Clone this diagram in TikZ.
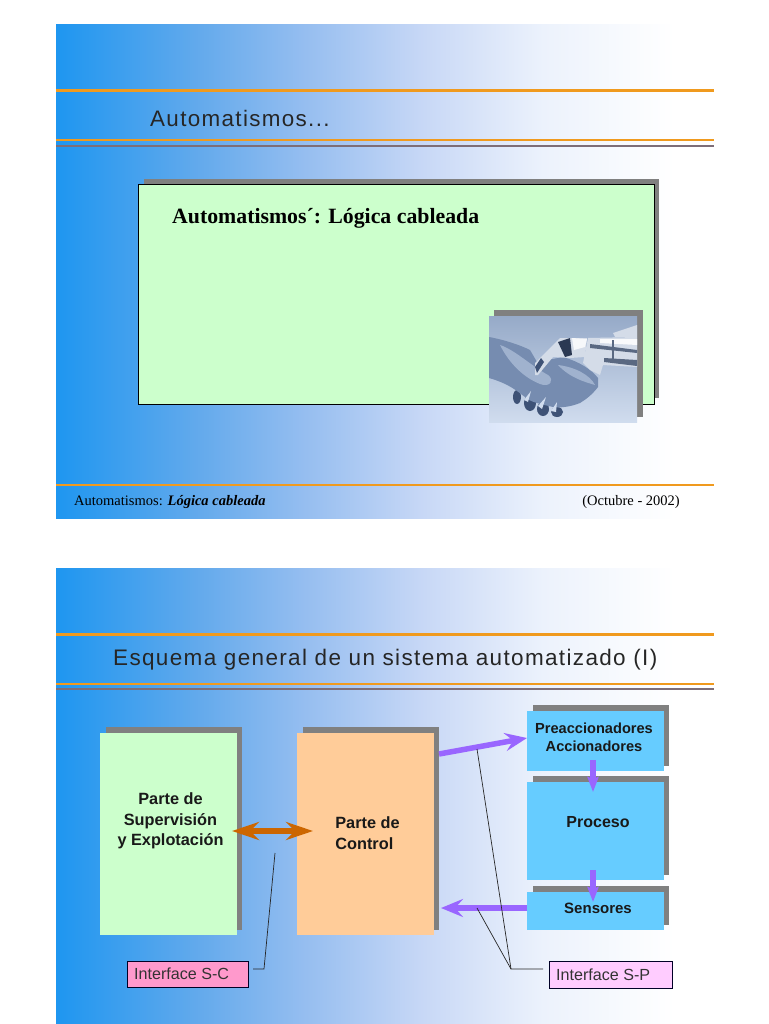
\documentclass[tikz,border=0pt]{standalone}
\usepackage{fontspec}
\setmainfont{Liberation Serif}
\setsansfont{Liberation Sans}
\newfontfamily\titlefont[LetterSpace=6]{Liberation Sans}
\usetikzlibrary{arrows.meta,calc}
\definecolor{cA}{RGB}{30,150,240}
\definecolor{cB}{RGB}{100,170,236}
\definecolor{cC}{RGB}{150,190,240}
\definecolor{cD}{RGB}{200,216,246}
\definecolor{cE}{RGB}{236,242,252}
\definecolor{rule}{RGB}{240,154,30}
\definecolor{ruleg}{RGB}{125,110,120}
\definecolor{shadowgray}{RGB}{128,128,128}
\definecolor{paleGreen}{RGB}{204,255,204}
\definecolor{peach}{RGB}{255,204,153}
\definecolor{skyb}{RGB}{102,204,255}
\definecolor{purp}{RGB}{153,102,255}
\definecolor{burnt}{RGB}{204,102,0}
\definecolor{rosa}{RGB}{255,153,204}
\definecolor{lilac}{RGB}{255,204,255}
\definecolor{phTop}{RGB}{150,170,200}
\definecolor{phBot}{RGB}{208,220,238}
\definecolor{phHand}{RGB}{118,140,176}
\definecolor{phLight}{RGB}{160,178,206}
\definecolor{phDark}{RGB}{62,82,118}
\definecolor{phRobot}{RGB}{212,220,232}
\definecolor{phSteel}{RGB}{90,105,130}
\pgfdeclarehorizontalshading{slidebg}{100bp}{color(0bp)=(cA); color(25bp)=(cA); color(36bp)=(cB); color(44bp)=(cC); color(53bp)=(cD); color(62bp)=(cE); color(72bp)=(white); color(100bp)=(white)}
\tikzset{
  x=1pt,y=-1pt,
  rect/.style={inner sep=0pt,outer sep=0pt,anchor=north west},
  rulemain/.style={draw=rule,line width=3pt},
  rulethin/.style={draw=rule,line width=2pt},
  rulegray/.style={draw=ruleg,line width=1.2pt},
  boxlabel/.style={font=\sffamily\bfseries\fontsize{16.3}{20.5}\selectfont,inner sep=0pt,text=black!90},
  ifacebox/.style={draw=black!85!blue,line width=0.9pt,inner sep=0pt,text=black!80},
  ifacetext/.style={font=\sffamily\fontsize{16.1}{18}\selectfont,text=black!80,inner sep=0pt,anchor=west},
  purplearrow/.style={draw=purp,line width=5.5pt,-{Stealth[length=22pt,width=18pt,inset=8pt]}},
  pdown/.style={draw=purp,line width=5.5pt,-{Stealth[length=15pt,width=11pt,inset=2pt]}},
  burntarrow/.style={draw=burnt,line width=5.5pt,{Stealth[length=27pt,width=18pt,inset=9pt]}-{Stealth[length=27pt,width=18pt,inset=9pt]}},
  leader/.style={draw=black!85,line width=0.7pt},
}
\newcommand{\shadowedbox}[6]{% name, x1,y1,x2,y2, fill
  \fill[shadowgray] (#2+6,#3-6) rectangle (#4+5,#5-5);
  \path[fill=#6] (#2,#3) rectangle (#4,#5);
  \coordinate (#1) at ({(#2+#4)/2},{(#3+#5)/2});
}
\begin{document}
\begin{tikzpicture}
\useasboundingbox (0,0) rectangle (768,1024);
\fill[white] (0,0) rectangle (768,1024);
% ---------- slide 1
\shade[shading=slidebg] (56,25) rectangle (714,518);
\draw[rulemain] (56,91) -- (714,91);
\draw[rulethin] (56,140.5) -- (714,140.5);
\draw[rulegray] (56,146) -- (714,146);
\node[anchor=base west,inner sep=0pt,text=black!85] (title1) at (150,127) {\titlefont\fontsize{22.4}{26}\selectfont Automatismos...};
\fill[shadowgray] (144,179) rectangle (659,398);
\path[fill=paleGreen,draw=black,line width=0.9pt] (138,184) rectangle (654,404);
\node[anchor=base west,inner sep=0pt] (head1) at (172,223) {\bfseries\fontsize{21.8}{25}\selectfont Automatismos´: Lógica cableada};
% picture
\fill[shadowgray] (494,309.5) rectangle (643,417);
\begin{scope}
\clip (489,316) rectangle (637,422);
\shade[top color=phTop,bottom color=phBot] (489,316) rectangle (637,422);
% human hand
\fill[phDark] (517,397) circle[x radius=4,y radius=7];
\fill[phDark] (530,403) circle[x radius=6,y radius=8];
\fill[phDark] (543,409) circle[x radius=6,y radius=7];
\fill[phDark] (557,412) circle[x radius=6,y radius=5];
\fill[phHand] (489,337) .. controls (505,340) and (520,345) .. (530,350) -- (537,362) -- (563,357) .. controls (580,362) and (592,370) .. (598,378)
 -- (598,387) .. controls (592,395) and (585,400) .. (580,403) .. controls (570,407) and (560,408) .. (553,407) .. controls (540,404) and (530,402) .. (525,397) .. controls (518,392) and (510,384) .. (489,378) -- cycle;
\fill[phLight] (500,345) .. controls (515,350) and (530,365) .. (548,375) .. controls (555,380) and (550,388) .. (540,384) .. controls (525,378) and (510,365) .. (500,345) -- cycle;
\fill[phLight] (558,365) .. controls (575,367) and (590,375) .. (595,385) .. controls (585,382) and (570,378) .. (558,365) -- cycle;
\fill[phBot] (524,400) -- (531,391) -- (528,402) -- cycle;
\fill[phBot] (538,406) -- (546,397) -- (542,409) -- cycle;
\fill[phBot] (551,411) -- (557,402) -- (556,412) -- cycle;
% robot thumb
\fill[phRobot] (535,375) -- (535,363) -- (560,338) -- (587,338) -- (585,357) -- (570,358) -- (553,357) -- (538,375) -- cycle;
\fill[phDark!70!black] (558,342) -- (570,338) -- (572,355) -- (565,357) -- cycle;
\fill[white!80!phRobot] (572,338) -- (587,339) -- (585,347) -- (574,350) -- cycle;
\fill[phDark] (535,367) -- (541,358) -- (544,362) -- (537,373) -- cycle;
% robot arm
\fill[phRobot] (588,338) -- (637,337) -- (637,367) -- (603,365) -- (600,375) -- (590,370) -- (583,363) -- cycle;
\fill[phSteel] (590,344) -- (637,350) -- (637,353) -- (590,348) -- cycle;
\fill[phSteel] (604,358) -- (637,360) -- (637,366) -- (604,362) -- cycle;
\fill[white!85!phRobot] (600,339) -- (637,339) -- (637,345) -- (600,343) -- cycle;
\fill[phSteel] (612,340) -- (614,340) -- (614,362) -- (612,362) -- cycle;
\fill[phRobot] (613,333) -- (637,325) -- (637,337) -- (615,337) -- cycle;
\end{scope}
% footer
\draw[draw=rule,line width=1.5pt] (56,485) -- (714,485);
\node[anchor=base west,inner sep=0pt] (foot1) at (74,505) {\fontsize{14.5}{16}\selectfont Automatismos: \textbf{\textit{Lógica cableada}}};
\node[anchor=base east,inner sep=0pt] (foot2) at (680,505) {\fontsize{14.5}{16}\selectfont (Octubre - 2002)};
% ---------- slide 2
\shade[shading=slidebg] (56,568) rectangle (714,1024);
\draw[rulemain] (56,634) -- (714,634);
\draw[rulethin] (56,683.5) -- (714,683.5);
\draw[rulegray] (56,689) -- (714,689);
\node[anchor=base west,inner sep=0pt,text=black!85] (title2) at (113,665) {\titlefont\fontsize{22.5}{26}\selectfont Esquema general de un sistema automatizado (I)};
% boxes
\shadowedbox{sup}{100}{733}{237}{935}{paleGreen}
\shadowedbox{ctl}{297}{733}{434}{935}{peach}
\shadowedbox{pre}{527}{711}{664}{771}{skyb}
\shadowedbox{pro}{527}{782}{664}{880}{skyb}
\shadowedbox{sen}{527}{892}{664}{930}{skyb}
\node[boxlabel,align=center] (supL) at (170.5,821) {Parte de\\Supervisión\\y Explotación};
\node[boxlabel,align=left] (ctlL) at (367.5,833) {Parte de\\Control};
\node[boxlabel,font=\sffamily\bfseries\fontsize{14.6}{18}\selectfont,align=center] (preL) at (594,737) {Preaccionadores\\Accionadores};
\node[boxlabel,font=\sffamily\bfseries\fontsize{16}{18}\selectfont] (proL) at (598,822) {Proceso};
\node[boxlabel,font=\sffamily\bfseries\fontsize{15}{18}\selectfont] (senL) at (598,908.5) {Sensores};
% arrows
\coordinate (dblA) at (232,831);
\coordinate (dblB) at (313,831);
\draw[burntarrow] (dblA) -- (dblB);
\coordinate (ctlOut) at (439,754);
\coordinate (preIn) at (527,738);
\draw[purplearrow] (ctlOut) -- (preIn);
\coordinate (senOut) at (527,908);
\coordinate (ctlIn) at (441,908);
\draw[purplearrow] (senOut) -- (ctlIn);
\coordinate (preDownA) at (593,760);
\coordinate (preDownB) at (593,792);
\draw[pdown] (preDownA) -- (preDownB);
\coordinate (proDownA) at (593,870);
\coordinate (proDownB) at (593,902);
\draw[pdown] (proDownA) -- (proDownB);
% interface labels
\node[ifacebox,rect,fill=rosa,minimum width=121pt,minimum height=26pt] (ifSC) at (127,961) {};
\node[ifacetext] (ifSCt) at (134,974) {Interface S-C};
\node[ifacebox,rect,fill=lilac,minimum width=123pt,minimum height=27pt] (ifSP) at (549,961) {};
\node[ifacetext] (ifSPt) at (556,974.5) {Interface S-P};
\coordinate (scTop) at (275,853);
\coordinate (scElbow) at (264,969);
\coordinate (scEnd) at (253,969);
\draw[leader] (scTop) -- (scElbow) -- (scEnd);
\coordinate (spEnd) at (543,969);
\coordinate (spElbow) at (511,969);
\coordinate (spUp) at (477,749);
\coordinate (spLow) at (477,908);
\draw[leader] (spEnd) -- (spElbow) -- (spUp);
\draw[leader] (spElbow) -- (spLow);
\end{tikzpicture}
\end{document}
